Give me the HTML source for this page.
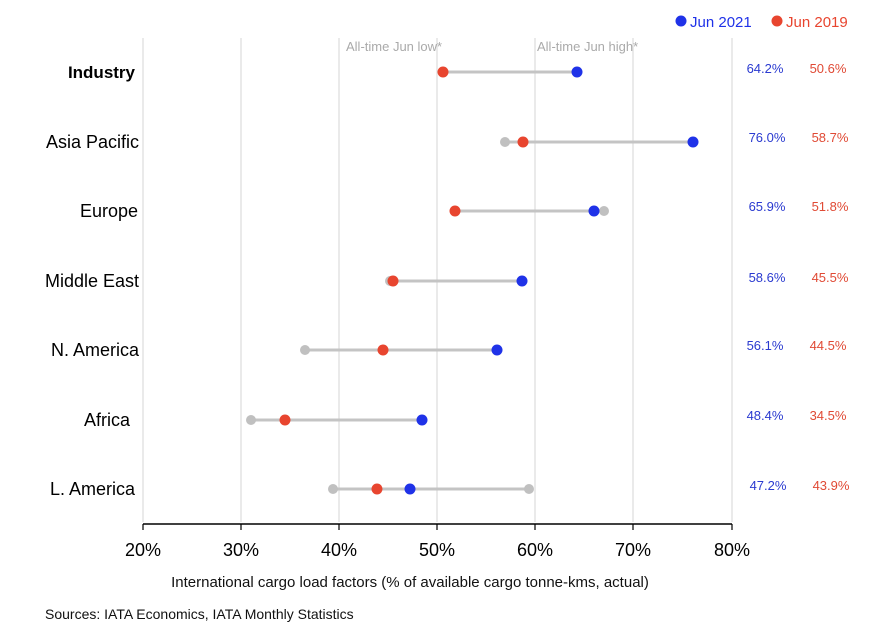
<!DOCTYPE html>
<html><head><meta charset="utf-8"><style>
body{margin:0;background:#fff;width:877px;height:640px;overflow:hidden}
svg{display:block;font-family:"Liberation Sans",sans-serif}
</style></head><body>
<svg width="877" height="640" viewBox="0 0 877 640">
<g stroke="#d4d4d4" stroke-width="1">
<line x1="143" y1="38" x2="143" y2="522"/><line x1="241" y1="38" x2="241" y2="522"/><line x1="339" y1="38" x2="339" y2="522"/><line x1="437" y1="38" x2="437" y2="522"/><line x1="535" y1="38" x2="535" y2="522"/><line x1="633" y1="38" x2="633" y2="522"/><line x1="732" y1="38" x2="732" y2="522"/>
</g>
<line x1="143" y1="524" x2="732" y2="524" stroke="#000" stroke-width="1.5"/>
<g stroke="#000" stroke-width="1.2">
<line x1="143" y1="524" x2="143" y2="530"/><line x1="241" y1="524" x2="241" y2="530"/><line x1="339" y1="524" x2="339" y2="530"/><line x1="437" y1="524" x2="437" y2="530"/><line x1="535" y1="524" x2="535" y2="530"/><line x1="633" y1="524" x2="633" y2="530"/><line x1="732" y1="524" x2="732" y2="530"/>
</g>
<g font-size="18" text-anchor="middle" fill="#000">
<text x="143" y="556">20%</text><text x="241" y="556">30%</text><text x="339" y="556">40%</text><text x="437" y="556">50%</text><text x="535" y="556">60%</text><text x="633" y="556">70%</text><text x="732" y="556">80%</text>
</g>
<text x="410" y="587" font-size="15" text-anchor="middle" fill="#111">International cargo load factors (% of available cargo tonne-kms, actual)</text>
<text x="45" y="619" font-size="14" fill="#111">Sources: IATA Economics, IATA Monthly Statistics</text>
<text x="346" y="51" font-size="13" fill="#aaa">All-time Jun low*</text>
<text x="537" y="51" font-size="13" fill="#aaa">All-time Jun high*</text>
<circle cx="681" cy="21" r="5.5" fill="#1f32e8"/><text x="690" y="27" font-size="15" fill="#1f32e8">Jun 2021</text>
<circle cx="777" cy="21" r="5.5" fill="#e8452f"/><text x="786" y="27" font-size="15" fill="#e8452f">Jun 2019</text>
<g font-size="18" fill="#000" text-anchor="end">
<text x="135" y="78" font-weight="bold" font-size="17">Industry</text>
<text x="139" y="148">Asia Pacific</text>
<text x="138" y="217">Europe</text>
<text x="139" y="287">Middle East</text>
<text x="139" y="356">N. America</text>
<text x="130" y="426">Africa</text>
<text x="135" y="495">L. America</text>
</g>
<g stroke="#c4c4c4" stroke-width="3">
<line x1="443" y1="72" x2="577" y2="72"/>
<line x1="505" y1="142" x2="693" y2="142"/>
<line x1="455" y1="211" x2="604" y2="211"/>
<line x1="390" y1="281" x2="522" y2="281"/>
<line x1="305" y1="350" x2="497" y2="350"/>
<line x1="251" y1="420" x2="422" y2="420"/>
<line x1="333" y1="489" x2="529" y2="489"/>
</g>
<g fill="#c0c0c0">
<circle cx="505" cy="142" r="5"/><circle cx="604" cy="211" r="5"/><circle cx="390" cy="281" r="5"/><circle cx="305" cy="350" r="5"/><circle cx="251" cy="420" r="5"/><circle cx="333" cy="489" r="5"/><circle cx="529" cy="489" r="5"/>
</g>
<g fill="#e8452f">
<circle cx="443" cy="72" r="5.5"/><circle cx="523" cy="142" r="5.5"/><circle cx="455" cy="211" r="5.5"/><circle cx="393" cy="281" r="5.5"/><circle cx="383" cy="350" r="5.5"/><circle cx="285" cy="420" r="5.5"/><circle cx="377" cy="489" r="5.5"/>
</g>
<g fill="#1f32e8">
<circle cx="577" cy="72" r="5.5"/><circle cx="693" cy="142" r="5.5"/><circle cx="594" cy="211" r="5.5"/><circle cx="522" cy="281" r="5.5"/><circle cx="497" cy="350" r="5.5"/><circle cx="422" cy="420" r="5.5"/><circle cx="410" cy="489" r="5.5"/>
</g>
<g font-size="13" text-anchor="middle" fill="#2a3ad0">
<text x="765" y="73">64.2%</text><text x="767" y="142">76.0%</text><text x="767" y="211">65.9%</text><text x="767" y="282">58.6%</text><text x="765" y="350">56.1%</text><text x="765" y="420">48.4%</text><text x="768" y="490">47.2%</text>
</g>
<g font-size="13" text-anchor="middle" fill="#e04a35">
<text x="828" y="73">50.6%</text><text x="830" y="142">58.7%</text><text x="830" y="211">51.8%</text><text x="830" y="282">45.5%</text><text x="828" y="350">44.5%</text><text x="828" y="420">34.5%</text><text x="831" y="490">43.9%</text>
</g>
</svg>
</body></html>
